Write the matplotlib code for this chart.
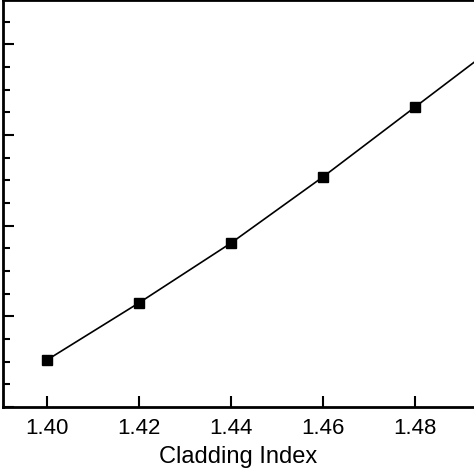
import matplotlib
matplotlib.use("Agg")
import matplotlib.pyplot as plt
from matplotlib.ticker import MultipleLocator, NullFormatter

plt.rcParams['font.family'] = ['Liberation Sans', 'DejaVu Sans']

x = [1.40, 1.42, 1.44, 1.46, 1.48]
y = [1.52, 2.15, 2.81, 3.54, 4.31]
line_x = [1.40, 1.42, 1.44, 1.46, 1.48, 1.50]
line_y = [1.52, 2.15, 2.81, 3.54, 4.31, 5.08]
xticks = [1.40, 1.42, 1.44, 1.46, 1.48]

fig = plt.figure(figsize=(4.74, 4.74), dpi=100)
ax = fig.add_axes([3/474, 67/474, 471/474, 407/474])
ax.plot(line_x, line_y, color="black", lw=1.2)
ax.plot(x, y, "s", color="black", ms=7)
ax.set_xlim(1.3904, 1.3904 + 471/4600)
ax.set_ylim(1.0, 5.49)
ax.set_xticks(xticks)
ax.set_xticklabels([f"{v:.2f}" for v in xticks], fontsize=16)
ax.yaxis.set_major_locator(MultipleLocator(1))
ax.yaxis.set_minor_locator(MultipleLocator(0.25))
ax.yaxis.set_major_formatter(NullFormatter())
ax.tick_params(axis="y", which="major", direction="in", length=8, width=1.5)
ax.tick_params(axis="y", which="minor", direction="in", length=5, width=1.5)
ax.tick_params(axis="x", direction="in", length=8, width=1.5, pad=8)
for s in ax.spines.values():
    s.set_linewidth(2)
ax.spines['right'].set_visible(False)
ax.set_xlabel("Cladding Index", fontsize=17, labelpad=5)
fig.savefig("out.png", dpi=100)
